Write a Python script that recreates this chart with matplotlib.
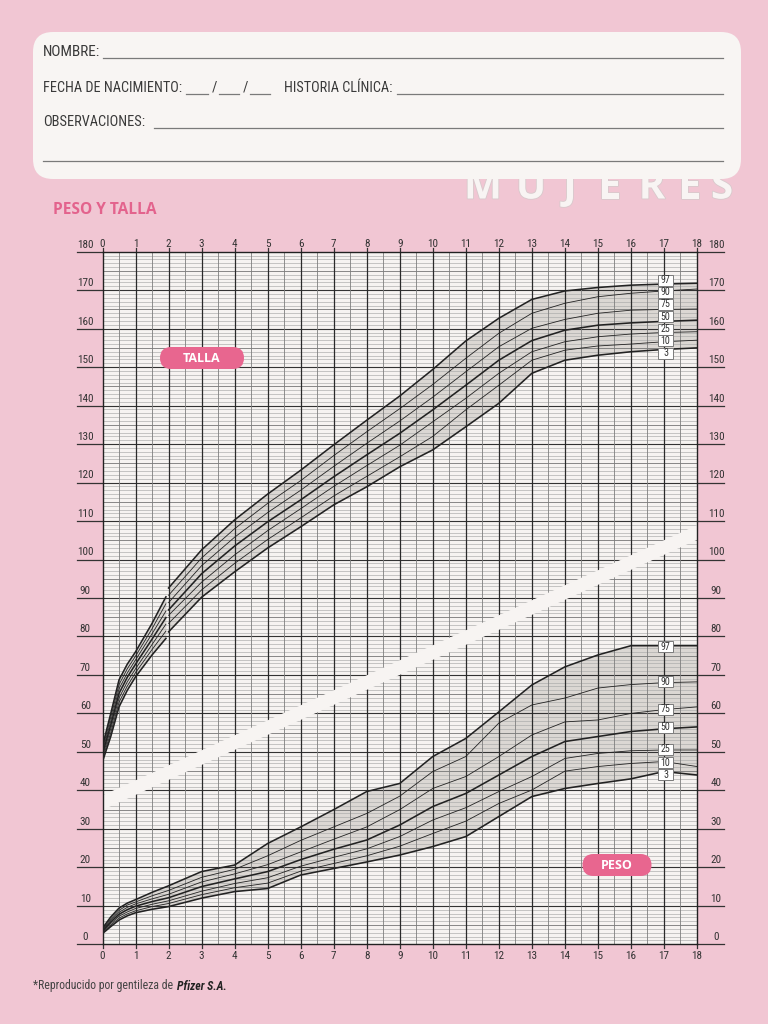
import numpy as np
import matplotlib
matplotlib.use("Agg")
import matplotlib.pyplot as plt
from matplotlib.patches import FancyBboxPatch, Rectangle
from matplotlib import font_manager as fm
import matplotlib.patheffects as pe

names = {f.name for f in fm.fontManager.ttflist}


def pick_cond():
    for n in ["Liberation Sans Narrow", "Roboto Condensed", "Open Sans Condensed", "Noto Sans Condensed"]:
        if n in names:
            return dict(family=n)
    for f in fm.fontManager.ttflist:
        if f.name == "DejaVu Sans" and "condensed" in str(f.stretch):
            return dict(family="DejaVu Sans", fontstretch="condensed")
    return dict(family="Roboto")


COND = pick_cond()

# ---------------- DATA ----------------
percentiles = ["3", "10", "25", "50", "75", "90", "97"]
thick = ["3", "50", "97"]

# Talla (cm), recumbent length 0-2 years
talla_lying_age = [0, 0.25, 0.5, 0.75, 1, 1.5, 1.92]
talla_lying = [
    [47.5, 54.0, 61.7, 66.0, 69.5, 75.2, 79.5],   # P3
    [48.2, 55.0, 62.9, 67.1, 70.6, 76.6, 81.4],   # P10
    [48.8, 56.0, 64.0, 68.2, 71.6, 77.9, 83.2],   # P25
    [49.5, 57.0, 65.2, 69.4, 72.8, 79.3, 84.9],   # P50
    [50.2, 58.0, 66.4, 70.5, 73.9, 80.7, 86.6],   # P75
    [50.8, 59.0, 67.5, 71.6, 74.9, 82.0, 88.5],   # P90
    [51.5, 60.0, 68.7, 72.8, 76.0, 83.4, 90.3],   # P97
]

# Talla (cm), standing height 2-18 years
talla_stand_age = [2, 3, 4, 5, 6, 7, 8, 9, 10, 11, 12, 13, 14, 15, 16, 17, 18]
talla_stand = [
    [81.2, 90.2, 96.8, 103.0, 108.5, 114.2, 118.9, 124.1, 128.5, 134.5, 140.6, 148.4, 151.8, 153.1, 154.0, 154.6, 155.0],
    [83.4, 92.1, 99.0, 105.2, 110.8, 116.5, 121.6, 126.7, 132.0, 138.9, 145.3, 151.8, 154.4, 155.5, 156.0, 156.6, 157.0],
    [85.5, 94.1, 101.2, 107.5, 113.2, 119.0, 124.4, 129.7, 135.8, 141.9, 148.4, 154.0, 156.6, 157.9, 158.6, 159.0, 159.2],
    [86.9, 96.3, 103.5, 109.8, 115.5, 121.5, 127.2, 132.8, 138.9, 145.3, 151.8, 156.9, 159.6, 160.9, 161.5, 161.9, 162.2],
    [88.8, 98.4, 105.8, 112.2, 118.0, 124.2, 130.2, 136.0, 142.2, 148.8, 155.3, 160.1, 162.4, 164.0, 164.8, 165.0, 165.1],
    [90.7, 100.4, 108.0, 114.6, 120.5, 127.0, 133.2, 139.2, 145.5, 152.3, 158.8, 164.0, 166.6, 168.3, 169.2, 169.8, 170.3],
    [92.6, 102.5, 110.3, 117.0, 123.2, 129.8, 136.2, 142.5, 149.4, 156.8, 162.7, 167.6, 169.8, 170.7, 171.3, 171.6, 171.8],
]

# Peso (kg), 0-18 years
peso_age = [0, 0.25, 0.5, 0.75, 1, 1.5, 2, 3, 4, 5, 6, 7, 8, 9, 10, 11, 12, 13, 14, 15, 16, 17, 18]
peso = [
    [2.8, 4.6, 6.3, 7.4, 8.2, 9.1, 9.8, 12.0, 13.7, 14.5, 18.0, 19.7, 21.4, 23.2, 25.4, 28.0, 33.2, 38.4, 40.5, 41.8, 43.0, 44.9, 44.0],
    [3.0, 5.0, 6.8, 7.9, 8.7, 9.8, 10.6, 12.9, 14.7, 15.9, 19.0, 21.0, 23.0, 25.5, 28.8, 32.0, 36.6, 40.1, 45.0, 46.2, 47.0, 47.5, 46.2],
    [3.2, 5.4, 7.3, 8.4, 9.3, 10.4, 11.3, 13.8, 15.8, 17.3, 20.3, 22.6, 24.8, 28.0, 32.3, 35.5, 39.7, 43.6, 48.3, 49.6, 50.3, 50.5, 50.5],
    [3.4, 5.8, 7.8, 9.0, 9.9, 11.1, 12.1, 15.0, 17.0, 18.9, 22.0, 24.7, 27.1, 31.0, 35.8, 39.2, 44.0, 48.8, 52.7, 54.0, 55.3, 56.0, 56.5],
    [3.7, 6.2, 8.3, 9.6, 10.5, 11.8, 13.0, 16.2, 18.3, 20.7, 24.0, 27.3, 30.5, 35.0, 40.5, 43.6, 48.8, 54.4, 57.8, 58.3, 60.0, 61.0, 61.7],
    [3.9, 6.6, 8.8, 10.2, 11.0, 12.6, 14.0, 17.4, 19.5, 23.0, 27.0, 30.5, 34.0, 38.5, 44.9, 48.8, 57.5, 62.2, 64.0, 66.6, 67.5, 68.0, 68.2],
    [4.2, 7.1, 9.4, 10.7, 11.6, 13.5, 15.2, 18.9, 20.6, 26.2, 30.5, 35.0, 39.7, 41.8, 48.8, 53.5, 60.4, 67.4, 72.1, 75.2, 77.6, 77.6, 77.6],
]

# percentile tag positions (value at right end)
talla_tag_y = [153.6, 156.9, 159.9, 163.1, 166.3, 169.4, 172.6]
peso_tag_y = [44.0, 47.2, 50.7, 56.4, 61.1, 68.2, 77.3]
tag_age = 17.05

x_ticks = list(range(0, 19))
y_ticks = list(range(0, 181, 10))

# white separating stripe (age, value at centre)
stripe_age = [0, 18]
stripe_val = [37.0, 107.2]
stripe_half = 1.9

PINK_BG = "#f1c6d3"
PINK = "#e8668f"
INK = "#222222"

# ---------------- FIGURE ----------------
fig = plt.figure(figsize=(7.68, 10.24), dpi=100, facecolor=PINK_BG)
renderer = fig.canvas.get_renderer()

page = fig.add_axes([0, 0, 1, 1], zorder=0)
page.set_xlim(0, 768)
page.set_ylim(1024, 0)
page.axis("off")


def fit(txt, target_px):
    w = txt.get_window_extent(renderer=renderer).width
    if w > 0:
        txt.set_fontsize(txt.get_fontsize() * target_px / w)
    return txt


# MUJERES (behind header box)
letters = "MUJERES"
lx = [483, 531, 570, 610, 652, 690, 722]
for ch, x in zip(letters, lx):
    page.text(x, 188, ch, ha="center", va="center", fontsize=29, fontweight="bold",
              family="Open Sans", color="#f8f4f3", zorder=1,
              path_effects=[pe.withStroke(linewidth=1.2, foreground="#d8c9cc")])

box = FancyBboxPatch((33, 32), 708, 147, boxstyle="round,pad=0,rounding_size=20",
                     fc="#f8f5f3", ec="none", zorder=2)
page.add_patch(box)

tk = dict(color="#3a3a3a", fontsize=10.5, va="center", zorder=3, **COND)
lk = dict(color="#7a7a7a", lw=0.9, zorder=3)
fit(page.text(43, 52, "NOMBRE:", **tk), 58)
page.plot([103, 723], [58, 58], **lk)
fit(page.text(43, 88, "FECHA DE NACIMIENTO:", **tk), 138)
page.plot([186, 208], [94, 94], **lk)
page.text(212, 88, "/", **tk)
page.plot([219, 239], [94, 94], **lk)
page.text(243, 88, "/", **tk)
page.plot([250, 270], [94, 94], **lk)
fit(page.text(284, 88, "HISTORIA CLÍNICA:", **tk), 108)
page.plot([397, 723], [94, 94], **lk)
fit(page.text(43, 122, "OBSERVACIONES:", **tk), 102)
page.plot([154, 723], [128, 128], **lk)
page.plot([43, 723], [161, 161], **lk)

fit(page.text(53, 210, "PESO Y TALLA", fontsize=10, fontweight="bold", family="Open Sans",
              color="#e3638d", va="center"), 104)

foot = fit(page.text(33, 986, "*Reproducido por gentileza de", fontsize=8.5,
                     color="#444444", va="center", **COND), 140)
page.annotate("Pfizer S.A.", xy=(1, 0.5), xycoords=foot, xytext=(3, 0),
              textcoords="offset points", fontsize=foot.get_fontsize(), fontweight="bold",
              style="italic", color="#222222", va="center", ha="left", **COND)

# ---------------- CHART ----------------
L, R, T, B = 102.5, 697.0, 251.7, 944.3
ax = fig.add_axes([L / 768, (1024 - B) / 1024, (R - L) / 768, (B - T) / 1024], zorder=2)
ax.set_xlim(0, 18)
ax.set_ylim(0, 180)
ax.set_facecolor("#f6f3f1")
px_x = 18 / (R - L)      # years per pixel
px_y = 180 / (B - T)     # units per pixel

# grid
minor_h = [v for v in range(1, 180) if v % 5 != 0]
mid_h = [v for v in range(5, 180, 10)]
major_h = [v for v in range(10, 180, 10)]
ax.hlines(minor_h, 0, 18, color="#a9a9a9", lw=0.45, zorder=1)
ax.hlines(mid_h, 0, 18, color="#757575", lw=0.6, zorder=1)
ax.hlines(major_h, 0, 18, color="#333333", lw=0.8, zorder=1)
half_v = [t + 0.5 for t in range(18)]
ax.vlines(half_v, 0, 180, color="#7e7e7e", lw=0.6, zorder=1)
ax.vlines(x_ticks[1:-1], 0, 180, color="#2a2a2a", lw=0.9, zorder=1)


def draw_set(age, rows):
    ax.fill_between(age, rows[0], rows[-1], color="#c6c0bc", alpha=0.55, lw=0, zorder=0.5)
    for p, vals in zip(percentiles, rows):
        lw = 1.15 if p in thick else 0.6
        ax.plot(age, vals, color=INK, lw=lw, zorder=4, solid_joinstyle="round")


draw_set(talla_lying_age, talla_lying)
draw_set(talla_stand_age, talla_stand)
draw_set(peso_age, peso)

# white stripe
st = np.array(stripe_age, dtype=float)
sv = np.array(stripe_val, dtype=float)
ax.fill_between(st, sv - stripe_half, sv + stripe_half, color="#f7f4f2", lw=0, zorder=3)

# percentile tags (fixed-size boxes)
tw, th = 15 * px_x, 11 * px_y
for ys in (talla_tag_y, peso_tag_y):
    for p, y in zip(percentiles, ys):
        ax.add_patch(Rectangle((tag_age - tw / 2, y - th / 2), tw, th, fc="white",
                               ec="#7a7a7a", lw=0.7, zorder=6))
        ax.text(tag_age, y, p, ha="center", va="center", fontsize=7.2, color="#333",
                zorder=7, **COND)

for s in ax.spines.values():
    s.set_color("#222")
    s.set_linewidth(1.0)
    s.set_zorder(5)
ax.set_xticks([])
ax.set_yticks([])

# outer tick lines and labels
lab = dict(fontsize=8, color="#333333", **COND)
for v in y_ticks:
    ax.plot([-0.043, 0], [v, v], transform=ax.get_yaxis_transform(), clip_on=False,
            color="#333", lw=0.9)
    ax.plot([1, 1.046], [v, v], transform=ax.get_yaxis_transform(), clip_on=False,
            color="#333", lw=0.9)
    ax.annotate(str(v), xy=(-0.029, v), xycoords=("axes fraction", "data"),
                xytext=(0, 1.5), textcoords="offset points", ha="center", va="bottom", **lab)
    ax.annotate(str(v), xy=(1.032, v), xycoords=("axes fraction", "data"),
                xytext=(0, 1.5), textcoords="offset points", ha="center", va="bottom", **lab)
for t in x_ticks:
    ax.annotate(str(t), xy=(t, 1), xycoords=("data", "axes fraction"),
                xytext=(0, 2), textcoords="offset points", ha="center", va="bottom", **lab)
    ax.annotate(str(t), xy=(t, 0), xycoords=("data", "axes fraction"),
                xytext=(0, -5), textcoords="offset points", ha="center", va="top", **lab)
    for yy, d in ((1, 1), (0, -1)):
        ax.plot([t, t], [yy, yy + d * 0.005], transform=ax.get_xaxis_transform(),
                clip_on=False, color="#333", lw=0.9)

# ---------------- PILLS ----------------
over = fig.add_axes([0, 0, 1, 1], zorder=10)
over.set_xlim(0, 768)
over.set_ylim(1024, 0)
over.axis("off")
over.patch.set_alpha(0)
for cx, cy, w, h, txt in [(202, 358, 84, 22, "TALLA"), (617, 865, 69, 22, "PESO")]:
    over.add_patch(FancyBboxPatch((cx - w / 2, cy - h / 2), w, h,
                                  boxstyle="round,pad=0,rounding_size=11", fc=PINK, ec="none"))
    over.text(cx, cy + 0.5, txt, ha="center", va="center", color="white", fontsize=9,
              fontweight="bold", family="Open Sans")

fig.savefig("out.png", dpi=100, facecolor=PINK_BG)
